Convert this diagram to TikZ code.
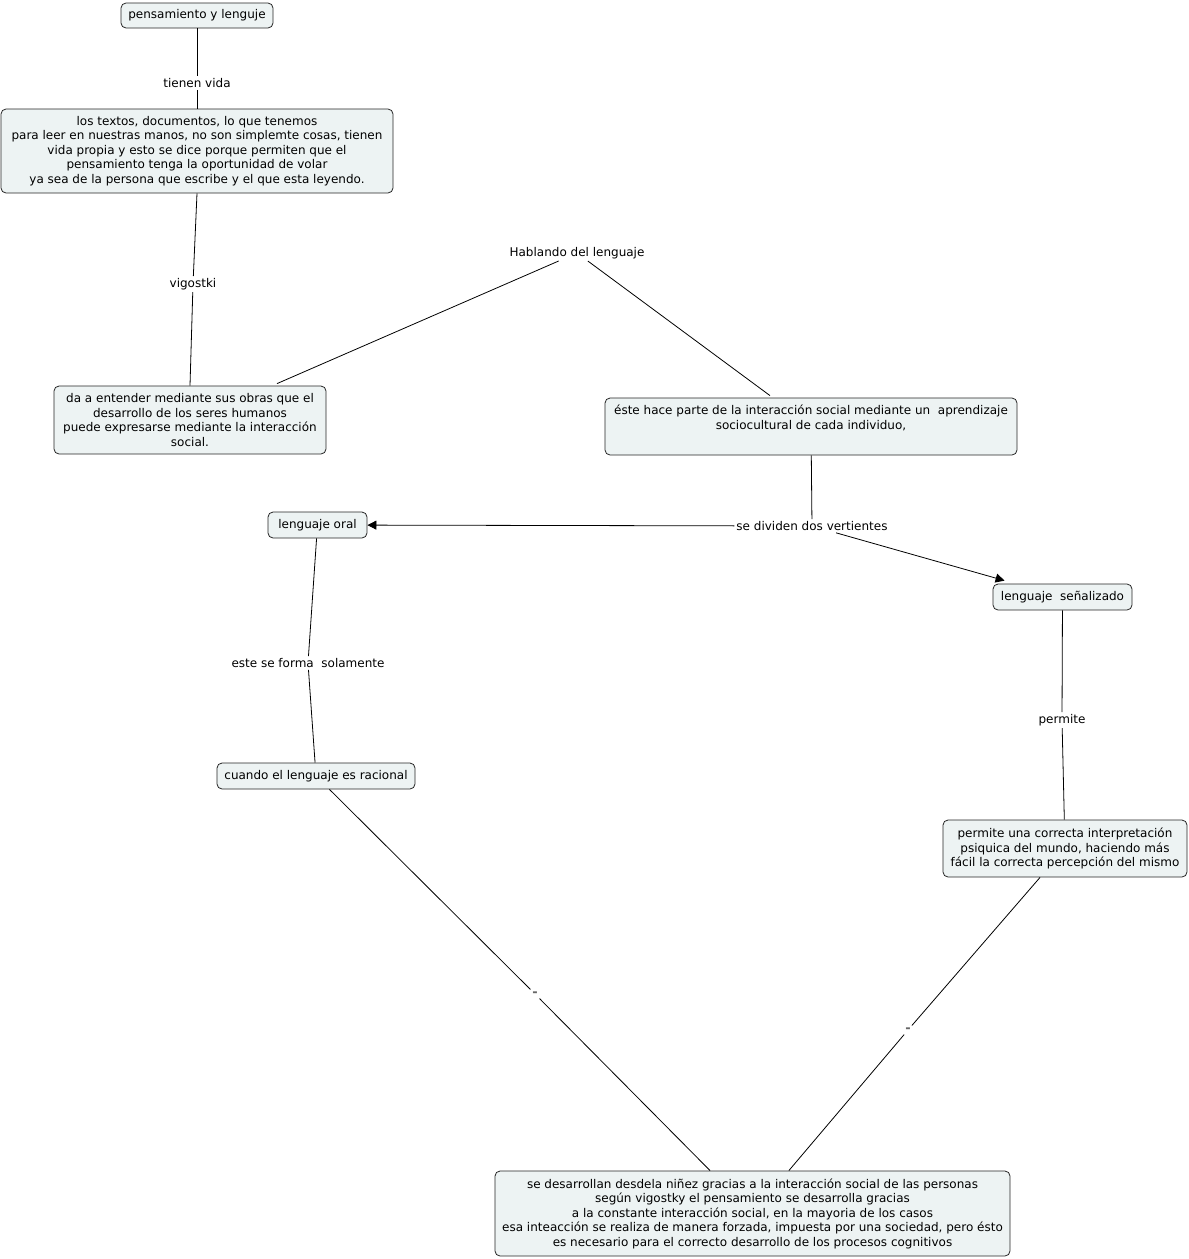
\documentclass[tikz,border=0pt]{standalone}
\usepackage{fontspec}
\setmainfont{DejaVu Sans}
\usetikzlibrary{arrows.meta,calc}
\definecolor{boxfill}{RGB}{237,243,243}
\tikzset{
  box/.style={draw=black!85, line width=0.8pt, rounded corners=5pt, fill=boxfill, inner sep=0pt, align=center},
  lab/.style={inner sep=2pt, align=center},
  dsh/.style={inner sep=2pt, text=black!60, font=\fontsize{13}{13}\bfseries\selectfont},
  conn/.style={line width=0.8pt, draw=black},
  arr/.style={conn, -{Triangle[length=9pt,width=9pt]}}
}
\begin{document}
\begin{tikzpicture}[x=1pt,y=-1pt, font=\fontsize{12}{14.5}\selectfont]
\useasboundingbox (0,0) rectangle (1189,1259);
\node[box, minimum width=152, minimum height=25] (n1) at (197,15.5) {pensamiento y lenguje};
\node[box, minimum width=392, minimum height=84] (n2) at (197,151) {los textos, documentos, lo que tenemos\\para leer en nuestras manos, no son simplemte cosas, tienen\\vida propia y esto se dice porque permiten que el\\pensamiento tenga la oportunidad de volar\\ya sea de la persona que escribe y el que esta leyendo.};
\node[box, minimum width=272, minimum height=68] (n3) at (190,420) {da a entender mediante sus obras que el\\desarrollo de los seres humanos\\puede expresarse mediante la interacción\\social.};
\node[box, minimum width=412, minimum height=57] (n4) at (811,426.5) {éste hace parte de la interacción social mediante un\ \ aprendizaje\\sociocultural de cada individuo,\\\strut};
\node[box, minimum width=99, minimum height=26] (n5) at (317.5,525) {lenguaje oral};
\node[box, minimum width=139, minimum height=26] (n6) at (1062.5,597) {lenguaje\ \ señalizado};
\node[box, minimum width=198, minimum height=26] (n7) at (316,776) {cuando el lenguaje es racional};
\node[box, minimum width=244, minimum height=57] (n8) at (1065,848.5) {permite una correcta interpretación\\psiquica del mundo, haciendo más\\fácil la correcta percepción del mismo};
\node[box, minimum width=515, minimum height=85] (n9) at (752.5,1213.5) {se desarrollan desdela niñez gracias a la interacción social de las personas\\según vigostky el pensamiento se desarrolla gracias\\a la constante interacción social, en la mayoria de los casos\\esa inteacción se realiza de manera forzada, impuesta por una sociedad, pero ésto\\es necesario para el correcto desarrollo de los procesos cognitivos};

\node[lab] (tv) at (197,83) {tienen vida};
\node[lab] (vig) at (193,284) {vigostki};
\node[lab] (hab) at (577,253) {Hablando del lenguaje};
\node[lab] (sdv) at (812,526) {se dividen dos vertientes};
\node[lab] (sf) at (308,663) {este se forma\ \ solamente};
\node[lab] (perm) at (1062,720) {permite};
\node[dsh] (d1) at (535,994) {-};
\node[dsh] (d2) at (908,1030) {-};

\draw[conn] (n1) -- (tv);
\draw[conn] (tv) -- (n2);
\draw[conn] (n2.south) -- (vig);
\draw[conn] (vig) -- (n3.north);
\draw[conn] (hab) -- ($(n3.north)+(87,-2)$);
\draw[conn] (hab) -- ($(n4.north)+(-41,-2)$);
\draw[conn] (n4) -- (sdv);
\draw[arr] (sdv) -- (n5);
\draw[arr] (sdv) -- ($(n6.north west)+(12,-3)$);
\draw[conn] (n5) -- (sf);
\draw[conn] (sf) -- (n7);
\draw[conn] (n6) -- (perm);
\draw[conn] (perm) -- (n8);
\draw[conn] (n7) -- (d1);
\draw[conn] (d1) -- (n9);
\draw[conn] (n8) -- (d2);
\draw[conn] (d2) -- (n9);
\end{tikzpicture}
\end{document}
